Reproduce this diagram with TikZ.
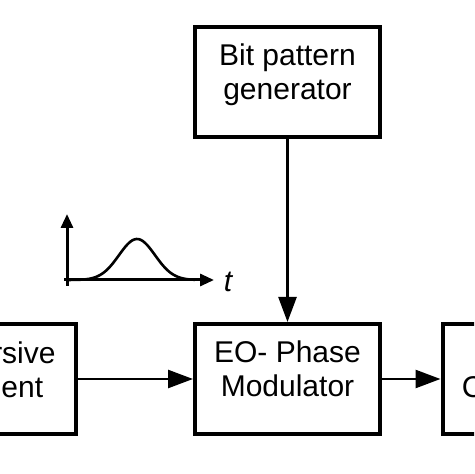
\documentclass[tikz,border=0pt]{standalone}
\usepackage{fontspec}
\setmainfont{Liberation Sans}
\usetikzlibrary{arrows.meta}

\begin{document}
\begin{tikzpicture}[x=0.5pt, y=-0.5pt]

\tikzset{block/.style = {shape=rectangle, draw, line width=2pt, minimum width=92.5pt, minimum height=55pt, align=center, font=\fontsize{15}{17}\selectfont, text height=27.75pt, text depth=10.25pt}}
\tikzset{cuttext/.style = {inner sep=0pt, font=\fontsize{15}{17}\selectfont}}
\tikzset{link/.style = {line width=1.25pt, -{Triangle[length=12.5pt, width=9pt]}}}
\tikzset{axis/.style = {line width=1.5pt, -{Triangle[length=7pt, width=6pt]}}}

\useasboundingbox (0,0) rectangle (474,474);
\clip (0,0) rectangle (474,474);

% blocks
\node[block] (bpg) at (287.5,82.5) {Bit pattern\\generator};
\node[block] (eo) at (287.5,379) {EO- Phase\\Modulator};
\node[block] (disp) at (-17,379) {};
\node[block] (out) at (535,379) {};
% texts of the cut blocks
\node[cuttext, anchor=base east] (disptop) at (56,363) {rsive};
\node[cuttext, anchor=base east] (dispbot) at (43.5,397) {ent};
\node[cuttext, anchor=base west] (outbot) at (461.5,397) {C};

%links
\draw[link] (bpg) -- (eo);
\draw[link] (disp) -- (eo);
\draw[link] (eo) -- (out);

% pulse sketch
\coordinate (ybot) at (67,286);
\coordinate (ytop) at (67,214);
\coordinate (xleft) at (64,280);
\coordinate (xend) at (214,280);
\draw[axis] (ybot) -- (ytop);
\draw[axis] (xleft) -- (xend);
\draw[line width=1.3pt] plot[domain=67:195, samples=60, smooth] (\x, {280-41*exp(-((\x-137)^2)/648)});
\node[cuttext, anchor=base] (tlabel) at (228.5,292) {\textit{t}};

\end{tikzpicture}
\end{document}
